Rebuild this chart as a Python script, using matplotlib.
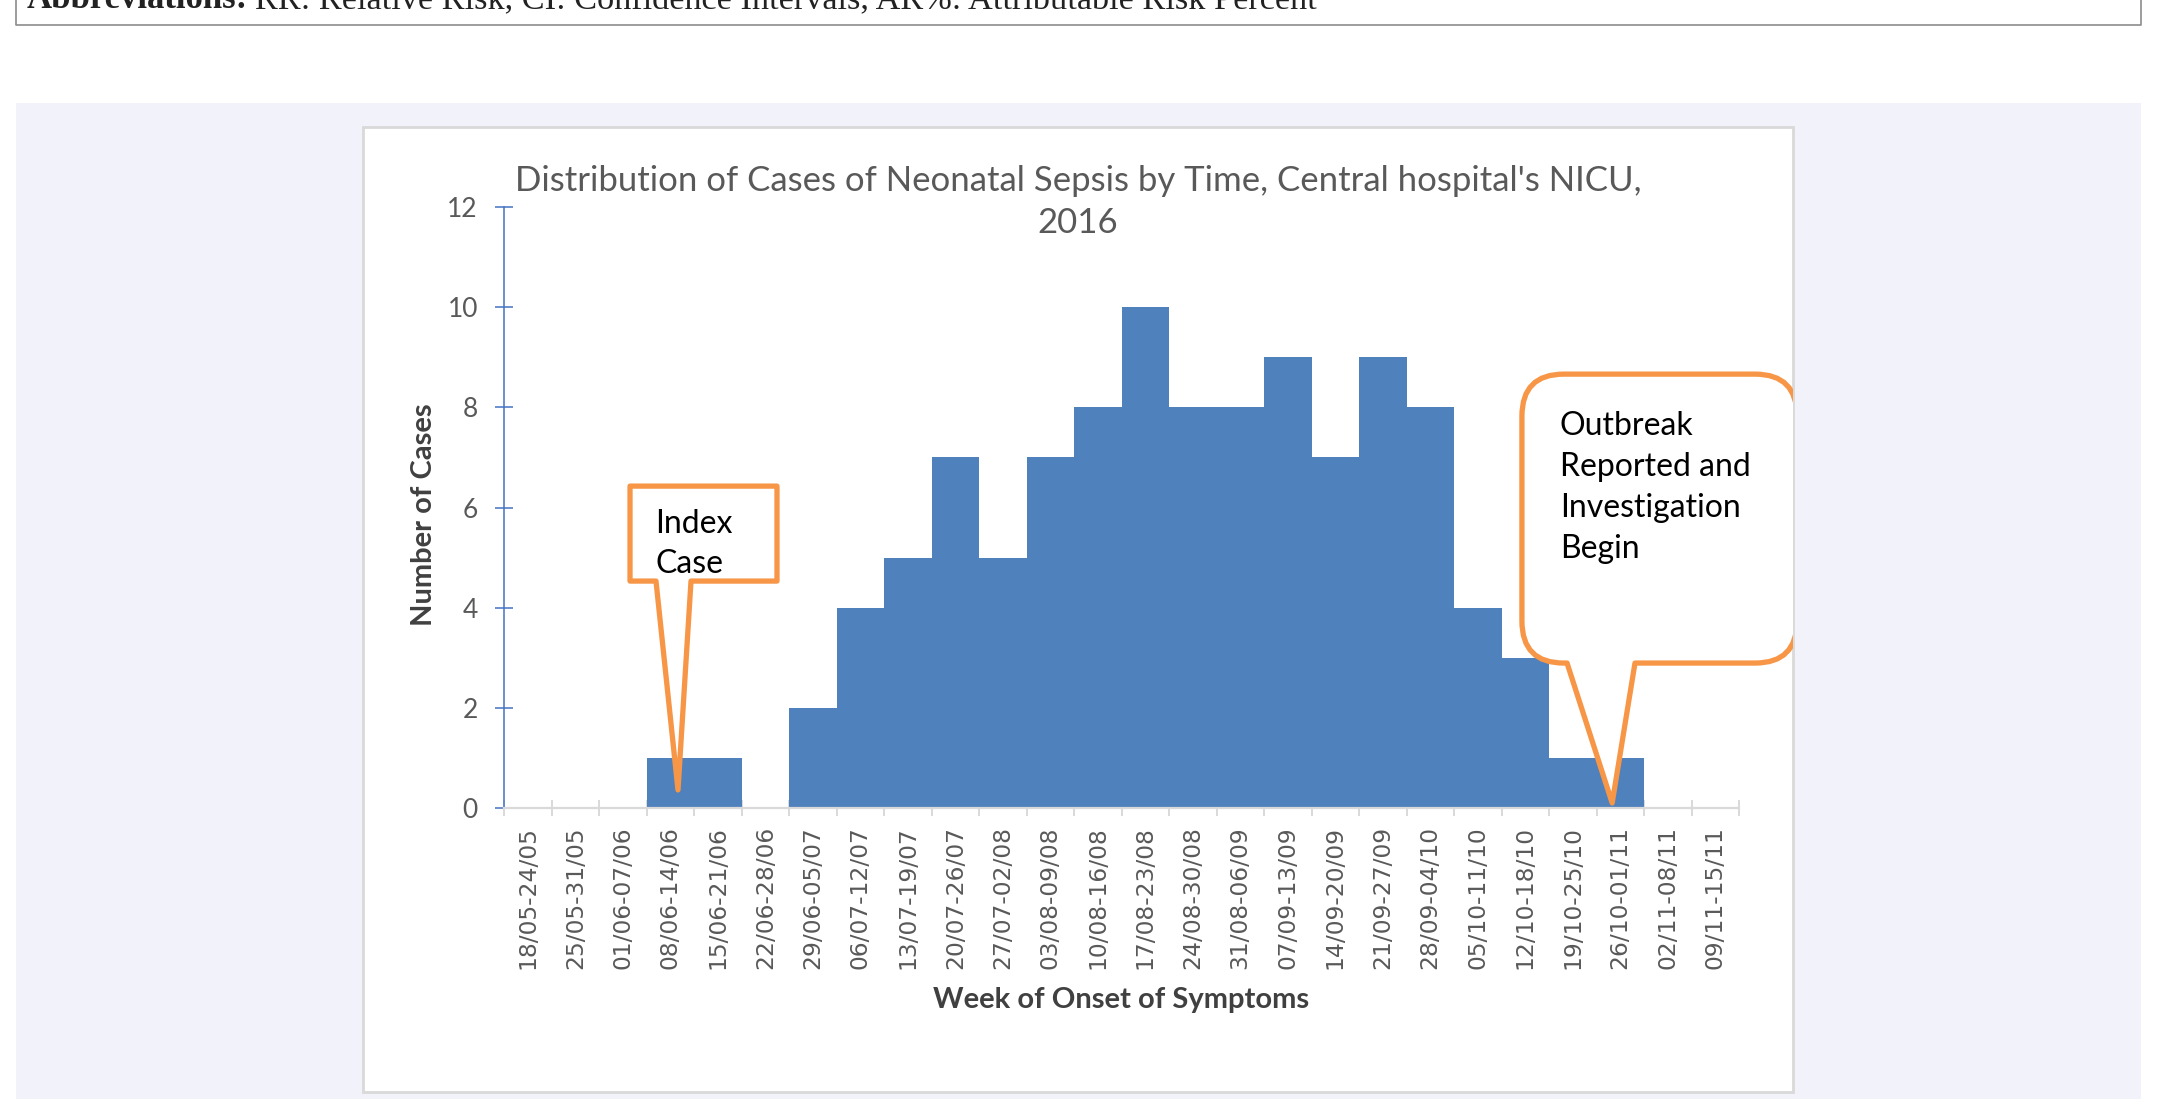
import matplotlib
matplotlib.use("Agg")
import matplotlib.pyplot as plt
from matplotlib.patches import Rectangle, PathPatch
from matplotlib.path import Path
from matplotlib.lines import Line2D

# Weekly case counts of neonatal sepsis, NICU 2016
weeks = ["18/05-24/05", "25/05-31/05", "01/06-07/06", "08/06-14/06",
         "15/06-21/06", "22/06-28/06", "29/06-05/07", "06/07-12/07",
         "13/07-19/07", "20/07-26/07", "27/07-02/08", "03/08-09/08",
         "10/08-16/08", "17/08-23/08", "24/08-30/08", "31/08-06/09",
         "07/09-13/09", "14/09-20/09", "21/09-27/09", "28/09-04/10",
         "05/10-11/10", "12/10-18/10", "19/10-25/10", "26/10-01/11",
         "02/11-08/11", "09/11-15/11"]
cases = [0, 0, 0, 1, 1, 0, 2, 4, 5, 7, 5, 7, 8, 10, 8, 8, 9, 7, 9, 8,
         4, 3, 1, 1, 0, 0]
y_ticks = [0, 2, 4, 6, 8, 10, 12]

W, H = 2167, 1099
BAR = "#4f81bd"
ORANGE = "#f79646"
GREY_TXT = "#595959"


def callout(x0, x1, y0, y1, tail, rx=0.0, ry=0.0):
    """Box with a pointed tail hanging from its bottom edge."""
    bl, br, tx, ty = tail
    verts = [(x0 + rx, y0), (bl, y0), (tx, ty), (br, y0), (x1 - rx, y0),
             (x1, y0), (x1, y0 + ry), (x1, y1 - ry),
             (x1, y1), (x1 - rx, y1), (x0 + rx, y1),
             (x0, y1), (x0, y1 - ry), (x0, y0 + ry),
             (x0, y0), (x0 + rx, y0), (x0 + rx, y0)]
    codes = [Path.MOVETO, Path.LINETO, Path.LINETO, Path.LINETO, Path.LINETO,
             Path.CURVE3, Path.CURVE3, Path.LINETO,
             Path.CURVE3, Path.CURVE3, Path.LINETO,
             Path.CURVE3, Path.CURVE3, Path.LINETO,
             Path.CURVE3, Path.CURVE3, Path.CLOSEPOLY]
    return Path(verts, codes)


fig = plt.figure(figsize=(W / 100, H / 100), dpi=100)
fig.patch.set_facecolor("white")

# page pieces around the chart
fig.add_artist(Line2D([16 / W, 16 / W, 2141 / W, 2141 / W],
                      [1, 1 - 25 / H, 1 - 25 / H, 1],
                      color="#8c8c8c", lw=1.2))
fig.text(27 / W, 1 - 8 / H, "Abbreviations:", fontsize=25,
         family="Liberation Serif", weight="bold", color="#222222",
         va="baseline")
fig.text(255 / W, 1 - 8 / H,
         "RR: Relative Risk, CI: Confidence Intervals, AR%: Attributable Risk Percent",
         fontsize=24.7, family="Liberation Serif", color="#222222", va="baseline")
fig.add_artist(Rectangle((16 / W, 0), 2125 / W, 996 / H,
                         transform=fig.transFigure, facecolor="#f2f3fa",
                         edgecolor="none", zorder=0))
panel = Rectangle((363 / W, 7 / H), 1430 / W, 965 / H,
                  transform=fig.transFigure, facecolor="white",
                  edgecolor="#d9d9d9", lw=2, zorder=0.5)
fig.add_artist(panel)

ax = fig.add_axes([504 / W, 1 - 808 / H, 1235 / W, 601 / H])
ax.set_zorder(2)
ax.patch.set_alpha(0)

x = list(range(len(weeks)))
ax.bar(x, cases, width=1.0, color=BAR, zorder=2)

ax.set_xlim(-0.5, len(weeks) - 0.5)
ax.set_ylim(0, 12)

for s in ["top", "right"]:
    ax.spines[s].set_visible(False)
ax.spines["left"].set_color("#4472c4")
ax.spines["left"].set_linewidth(1.1)
ax.spines["bottom"].set_color("#d9d9d9")
ax.spines["bottom"].set_linewidth(1.6)

ax.set_yticks(y_ticks)
ax.set_yticklabels([str(v) for v in y_ticks], fontsize=19, color=GREY_TXT,
                   family="Lato")
ax.tick_params(axis="y", direction="inout", length=13.5, width=1.1,
               color="#4472c4", pad=12)

ax.set_xticks(x)
ax.set_xticklabels(weeks, rotation=90, fontsize=16.8, color=GREY_TXT,
                   family="DejaVu Sans")
ax.tick_params(axis="x", which="major", length=0, pad=13)
ax.set_xticks([i - 0.5 for i in range(len(weeks) + 1)], minor=True)
ax.tick_params(axis="x", which="minor", direction="inout", length=12,
               width=1.4, color="#d9d9d9")

ax.set_ylabel("Number of Cases", fontsize=21, weight="bold",
              family="Lato", color="#404040")
ax.yaxis.set_label_coords(-0.054, 0.4875)
ax.set_xlabel("Week of Onset of Symptoms", fontsize=21, weight="bold",
              family="Lato", color="#404040")
ax.xaxis.set_label_coords(0.5, -0.298)

fig.text(1078 / W, 1 - 233 / H,
         "Distribution of Cases of Neonatal Sepsis by Time, Central hospital's NICU,\n2016",
         ha="center", va="baseline", fontsize=25, family="Lato",
         color=GREY_TXT, linespacing=1.4)

# "Index Case" callout
p1 = PathPatch(callout(2.153, 5.247, 4.531, 6.427, (2.70, 3.437, 3.163, 0.36)),
               facecolor="white", edgecolor=ORANGE, lw=3.8,
               joinstyle="round", zorder=4, clip_on=False)
ax.add_patch(p1)
ax.text(2.679, 4.69, "Index\nCase", fontsize=23, family="Lato",
        color="black", va="baseline", linespacing=1.43, zorder=5)

# "Outbreak Reported" callout, cut by the chart panel edge
p2 = PathPatch(callout(20.93, 26.72, 2.894, 8.663, (21.88, 23.31, 22.83, 0.10),
                       rx=0.88, ry=0.84),
               facecolor="white", edgecolor=ORANGE, lw=3.8,
               joinstyle="round", zorder=4)
ax.add_patch(p2)
p2.set_clip_path(panel)
ax.text(21.73, 5.0, "Outbreak\nReported and\nInvestigation\nBegin",
        fontsize=23, family="Lato", color="black", va="baseline",
        linespacing=1.45, zorder=5)

plt.savefig("out.png", dpi=100)
